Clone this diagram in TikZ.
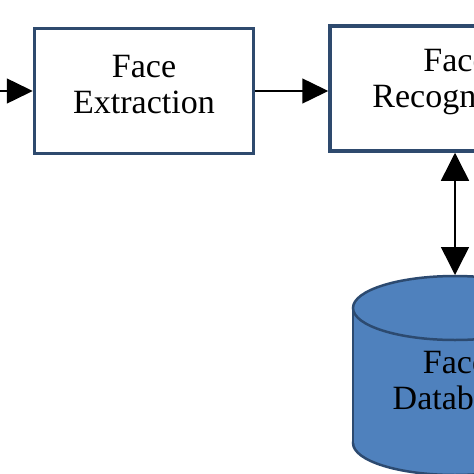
\documentclass[tikz,border=0pt]{standalone}
\usepackage{fontspec}
\setmainfont{Liberation Serif}
\usetikzlibrary{arrows.meta,positioning}
\definecolor{boxline}{HTML}{2E4A6E}
\definecolor{dbfill}{HTML}{4F81BD}
\definecolor{dbline}{HTML}{2C4A70}

\begin{document}
\begin{tikzpicture}[x=1pt,y=-1pt,>={Triangle[length=26pt,width=25pt]},node distance=73pt,
  blockbox/.style={draw=boxline,line width=3.5pt,minimum height=125pt},
  blocktext/.style={align=center,font=\fontsize{34}{36}\selectfont},
  link/.style={line width=1.5pt},
  dbshape/.style={draw=dbline,fill=dbfill,line width=2.5pt}]
\useasboundingbox (0,0) rectangle (474,474);
\clip (0,0) rectangle (474,474);
\node[blockbox,minimum width=219pt] (ext) at (144,91) {};
\node[blockbox,minimum width=251pt,right=of ext,yshift=2.5pt] (rec) {};
\node[blocktext] (extlabel) at ([yshift=6pt]ext.center) {Face\\Extraction};
\node[blocktext] (reclabel) at ([yshift=6pt]rec.center) {Face\\Recognition};
\coordinate (src) at (-10,91);
\draw[->,link] (src) -- (ext);
\draw[->,link] (ext) -- (ext -| rec.west);
% database cylinder
\filldraw[dbshape] (455,443) ellipse[x radius=102,y radius=32];
\fill[dbfill] (353,308) rectangle (557,443);
\draw[dbshape,fill=none] (353,308) -- (353,443) (557,308) -- (557,443);
\filldraw[dbshape] (455,308) ellipse[x radius=102,y radius=32];
\coordinate (dbtop) at (455,275);
\node[blocktext] (db) at (455,381) {Face\\Database};
\draw[{Triangle[length=28pt,width=28pt]}-{Triangle[length=28pt,width=28pt]},link] (rec.south -| dbtop) -- (dbtop);
\end{tikzpicture}
\end{document}
